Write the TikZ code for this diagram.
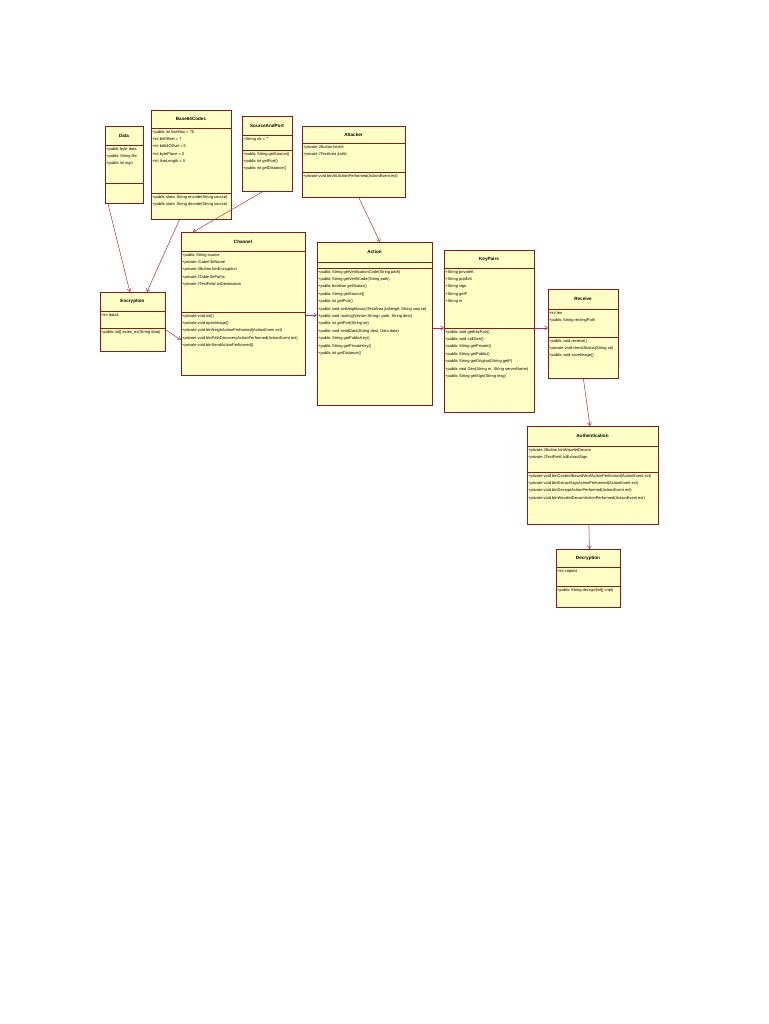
\documentclass[tikz,border=0pt]{standalone}
\usepackage{fontspec}
\setmainfont{Liberation Sans}
\usetikzlibrary{arrows.meta}
\definecolor{bord}{HTML}{8B1A1A}
\definecolor{fillc}{HTML}{FFFFC6}
\definecolor{arr}{HTML}{B03040}
\tikzset{
 cls/.style={draw=bord,fill=fillc,line width=0.8pt,anchor=north west,inner sep=0pt},
 sect/.style={anchor=north west,inner sep=1pt,align=left,font=\fontsize{4}{7.4}\selectfont},
 ttl/.style={font=\fontsize{4.6}{5}\selectfont\bfseries},
 conn/.style={draw=arr,line width=0.5pt,-{Straight Barb[length=3pt,width=4pt]}}
}
% name, x1,y1,x2,y2, header bottom, attr bottom, title, attrs, methods
\newcommand{\umlclass}[9]{%
 \path (#2,-#3) coordinate (tl);
 \node[cls,minimum width=#4pt-#2pt,minimum height=#5pt-#3pt] (#1) at (#2,-#3) {};
 \draw[bord,line width=0.8pt] (#2,-#6) -- (#4,-#6);
 \draw[bord,line width=0.8pt] (#2,-#7) -- (#4,-#7);
 \node[ttl] (#1t) at ({(#2+#4)/2},{-(#3+#6)/2}) {#8};
 \node[sect] (#1a) at (#2,{-#6-1}) {#9};
 \umlmeth{#1}{#2}{#7}}
\newcommand{\umlmeth}[4]{\node[sect] (#1m) at (#2,{-#3-1}) {#4};}
\begin{document}
\begin{tikzpicture}[x=1pt,y=1pt]
\useasboundingbox[fill=white] (0,0) rectangle (768,-1024);
\umlclass{data}{105}{126}{143}{203}{145}{183}{Data}{+public byte data\\+public String file\\+public int sign}{}
\umlclass{b64}{151}{110}{231}{219}{128}{193}{Base64Codec}{+public int lineMax = 75\\+int bitOffset = 7\\+int bit64Offset = 5\\+int bytePlace = 0\\+int lineLength = 0}{+public static String encode(String source)\\+public static String decode(String source)}
\umlclass{sap}{242}{116}{292}{191}{135}{150}{SourceAndPort}{+String str = ""}{+public String getSource()\\+public int getPort()\\+public int getDistance()}
\umlclass{att}{302}{126}{405}{197}{143}{172}{Attacker}{+private JButton btnAtt\\+private JTextArea jtaAtt}{+private void btnAttActionPerformed(ActionEvent evt)}
\umlclass{chan}{181}{232}{305}{375}{251}{312}{Channel}{+public String source\\+private JLabel lblName\\+private JButton btnEncryption\\+private JTable tblPaths\\+private JTextField txtDestination}{+private void init()\\+private void openImage()\\+private void btnNeighActionPerformed(ActionEvent evt)\\+private void btnPathDiscoveryActionPerformed(ActionEvent evt)\\+private void btnSendActionPerformed()}
\umlclass{enc}{100}{292}{165}{351}{311}{328}{Encryption}{+int data1}{+public int[] ecies\_ex(String data)}
\umlclass{act}{317}{242}{432}{405}{262}{268}{Action}{}{+public String getVerificationCode(String path)\\+public String getVerifiCode(String path)\\+public boolean getStatus()\\+public String getSource()\\+public int getPort()\\+public void setNeighbour(JTextArea jtaNeigh, String source)\\+public void routing(Vector<String> path, String dest)\\+public int getPort(String ne)\\+public void sendData(String dest, Data data)\\+public String getPublicKey()\\+public String getPrivateKey()\\+public int getDistance()}
\umlclass{kp}{444}{250}{534}{412}{268}{328}{KeyPairs}{+String privateK\\+String publicK\\+String sign\\+String getP\\+String m}{+public void getKeyPair()\\+public void callGen()\\+public String getPrivate()\\+public String getPublic()\\+public String getOriginal(String getP)\\+public void Gen(String m, String serverName)\\+public String getSign(String msg)}
\umlclass{rec}{548}{289}{618}{378}{309}{337}{Receive}{+int len\\+public String recImgPath}{+public void receive()\\+private void checkStatus(String str)\\+public void saveImage()}
\umlclass{auth}{527}{426}{658}{524}{446}{472}{Authentication}{+private JButton btnWaveletDecom\\+private JTextField txtExtractSign}{+private void btnContentBasedVerifActionPerformed(ActionEvent evt)\\+private void btnExtractSignActionPerformed(ActionEvent evt)\\+private void btnDecryptActionPerformed(ActionEvent evt)\\+private void btnWaveletDecomActionPerformed(ActionEvent evt)}
\umlclass{dec}{556}{549}{620}{607}{567}{586}{Decryption}{+int cripted}{+public String decrypt(int[] cript)}
\draw[conn] ([xshift=3pt]data.south west) -- ([xshift=-3pt]enc.north);
\draw[conn] ([xshift=-12pt]b64.south) -- ([xshift=14pt]enc.north);
\draw[conn] ([xshift=-5pt]sap.south) -- ([xshift=12pt]chan.north west);
\draw[conn] ([xshift=5pt]att.south) -- ([xshift=5pt]act.north);
\draw[conn] ([yshift=-8pt]enc.east) -- ([yshift=-18pt]chan.west |- enc.east);
\draw[conn] (chan.east |- 0,-315) coordinate (c1) -- (act.west |- c1);
\draw[conn] (act.east |- 0,-328) coordinate (c2) -- (kp.west |- c2);
\draw[conn] (kp.east |- 0,-328) coordinate (c3) -- (rec.west |- c3);
\draw[conn] (rec.south) -- ([xshift=-3pt]auth.north);
\draw[conn] ([xshift=-4pt]auth.south) -- ([xshift=1pt]dec.north);
\end{tikzpicture}
\end{document}
